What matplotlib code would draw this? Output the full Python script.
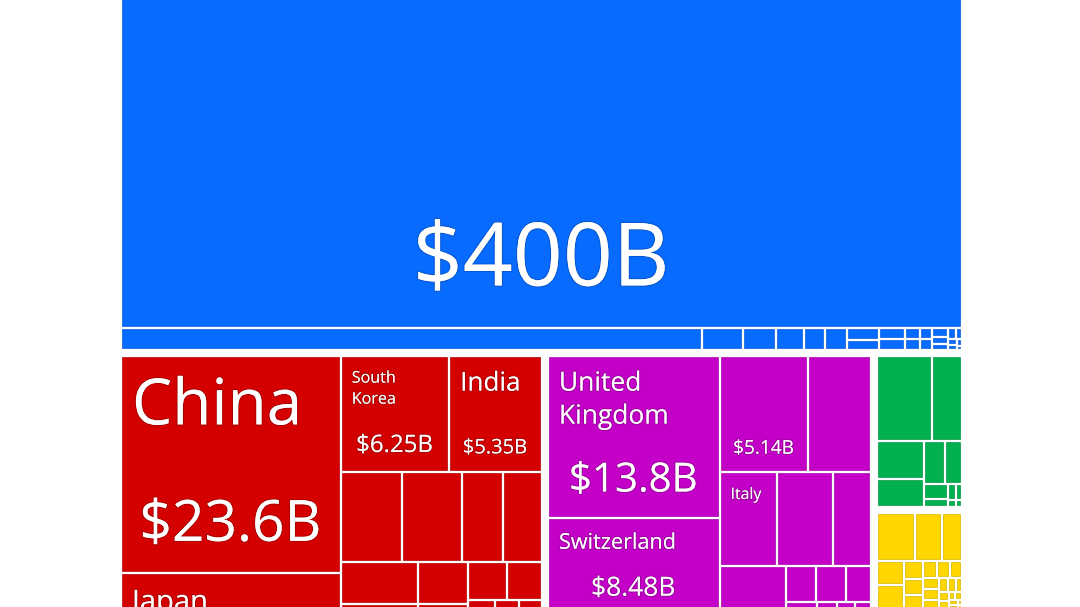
import matplotlib.pyplot as plt
import matplotlib.patheffects as pe
import matplotlib.colors as mc
from matplotlib.patches import Rectangle

plt.rcParams['font.family'] = ['Open Sans', 'DejaVu Sans']

# === Date (export values, $B) ===
north_america = [400, 6.18, 0.434, 0.35, 0.30, 0.23, 0.227, 0.18, 0.16, 0.146, 0.137,
                 0.076, 0.074, 0.071, 0.066, 0.066, 0.057, 0.047,
                 0.04, 0.035, 0.025, 0.02, 0.015, 0.01]
asia = [23.6, 11.5, 6.25, 5.35, 2.71, 2.69, 1.84, 1.71, 1.60, 1.50, 1.36, 1.02, 0.95, 0.89,
        0.73, 0.67, 0.45, 0.42, 0.38, 0.34, 0.30, 0.26, 0.22, 0.18, 0.14, 0.10, 0.07]
europe = [13.8, 8.48, 5.25, 5.14, 3.64, 2.68, 2.58, 1.80, 1.75, 1.20, 0.76, 0.54, 0.53, 0.44,
          0.42, 0.40, 0.36, 0.33, 0.30, 0.27, 0.24, 0.21, 0.19, 0.16, 0.13, 0.11, 0.08, 0.06]
south_america = [2.47, 1.36, 0.94, 0.70, 0.51, 0.39, 0.19, 0.10, 0.07, 0.05, 0.03, 0.02]
africa = [0.99, 0.71, 0.51, 0.36, 0.34, 0.19, 0.17, 0.15, 0.13, 0.12, 0.11, 0.10, 0.09, 0.08,
          0.07, 0.06, 0.05, 0.05, 0.04, 0.03, 0.03, 0.02, 0.02, 0.01, 0.01]
oceania = [2.3, 0.55, 0.18]

na_names = ["United States", "Mexico"]
asia_names = ["China", "Japan", "South Korea", "India"]
europe_names = ["United Kingdom", "Switzerland", "", "", "", "Italy"]

groups = [
    ("north_america", north_america, na_names),
    ("asia", asia, asia_names),
    ("europe", europe, europe_names),
    ("south_america", south_america, []),
    ("africa", africa, []),
    ("oceania", oceania, []),
]

colors = {
    "north_america": "#076bff",
    "asia": "#d40000",
    "europe": "#c400c8",
    "south_america": "#00b04f",
    "africa": "#ffd600",
    "oceania": "#00a5a5",
}

# which tiles get text: (group, index) -> font sizes in pt
label_style = {
    ("north_america", 0): dict(value=63),
    ("asia", 0): dict(name=46, value=41),
    ("asia", 1): dict(name=21),
    ("asia", 2): dict(name=11.6, value=17.3, wrap=True),
    ("asia", 3): dict(name=18.8, value=14.5),
    ("europe", 0): dict(name=19, value=29, wrap=True),
    ("europe", 1): dict(name=15.6, value=19),
    ("europe", 3): dict(value=13.7),
    ("europe", 5): dict(name=11.4),
}

# treemap frame in pixels (the picture is a zoomed crop of it)
FRAME = (117.5, -654.4, 964.5, 680.9)
GROUP_PAD = 3.0
LEAF_PAD = 1.5
PHI = (1 + 5 ** 0.5) / 2


def squarify(values, x0, y0, x1, y1):
    # d3 squarify (ratio = golden ratio)
    rects = []
    total = float(sum(values))
    i0, n = 0, len(values)
    while i0 < n:
        dx, dy = x1 - x0, y1 - y0
        s = values[i0]
        vmin = vmax = s
        alpha = max(dy / dx, dx / dy) / (total * PHI)
        beta = s * s * alpha
        best = max(vmax / beta, beta / vmin)
        i1 = i0 + 1
        while i1 < n:
            v = values[i1]
            s2 = s + v
            beta = s2 * s2 * alpha
            r = max(max(vmax, v) / beta, beta / min(vmin, v))
            if r > best:
                break
            s, best = s2, r
            vmin, vmax = min(vmin, v), max(vmax, v)
            i1 += 1
        row = values[i0:i1]
        if dx < dy:
            h = dy * s / total
            x = x0
            for v in row:
                w = dx * v / s
                rects.append((x, y0, x + w, y0 + h))
                x += w
            y0 += h
        else:
            w = dx * s / total
            y = y0
            for v in row:
                h = dy * v / s
                rects.append((x0, y, x0 + w, y + h))
                y += h
            x0 += w
        total -= s
        i0 = i1
    return rects


def darker(c, f=0.85):
    r, g, b = mc.to_rgb(c)
    return (r * f, g * f, b * f)


fig = plt.figure(figsize=(10.8, 6.07), dpi=100)
ax = fig.add_axes([0, 0, 1, 1])
ax.set_xlim(0, 1080)
ax.set_ylim(607, 0)
ax.axis("off")

shadow = [pe.withStroke(linewidth=1.6, foreground=(0, 0, 0, 0.18))]
PX = 100 / 72.0

group_rects = squarify([sum(g[1]) for g in groups], *FRAME)
for (key, vals, names), (gx0, gy0, gx1, gy1) in zip(groups, group_rects):
    gx0, gy0, gx1, gy1 = gx0 + GROUP_PAD, gy0 + GROUP_PAD, gx1 - GROUP_PAD, gy1 - GROUP_PAD
    leaf_rects = squarify(vals, gx0, gy0, gx1, gy1)
    for i, (x0, y0, x1, y1) in enumerate(leaf_rects):
        x0, y0, x1, y1 = x0 + LEAF_PAD, y0 + LEAF_PAD, x1 - LEAF_PAD, y1 - LEAF_PAD
        ax.add_patch(Rectangle((x0, y0), x1 - x0, y1 - y0, facecolor=colors[key],
                               edgecolor=darker(colors[key]), linewidth=0.5))
        st = label_style.get((key, i))
        if st is None:
            continue
        if "name" in st and i < len(names) and names[i]:
            txt = names[i].replace(" ", "\n") if st.get("wrap") else names[i]
            fpx = st["name"] * PX
            ax.text(x0 + 10, y0 + 12 + 0.1 * fpx, txt, color="white", fontsize=st["name"],
                    ha="left", va="top", linespacing=1.42, path_effects=shadow)
        if "value" in st:
            fpx = st["value"] * PX
            ax.text((x0 + x1) / 2, y1 - (10 + 0.35 * fpx), f"${vals[i]:.3g}B", color="white",
                    fontsize=st["value"], ha="center", va="baseline", path_effects=shadow)

fig.savefig("out.png", dpi=100, facecolor="white")
